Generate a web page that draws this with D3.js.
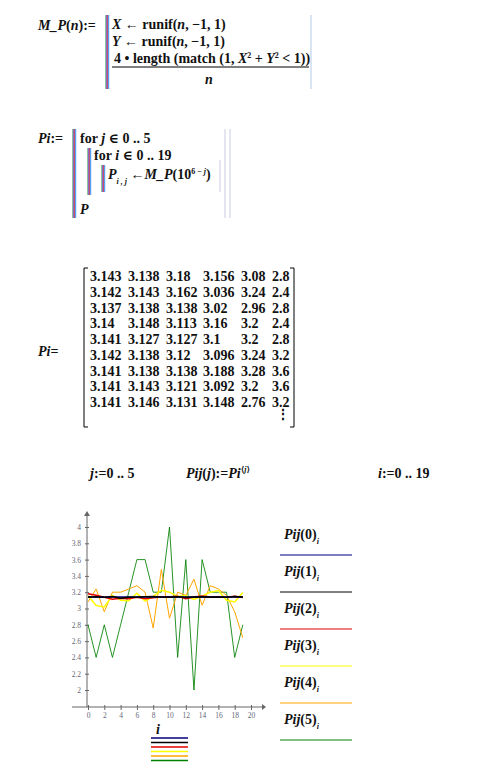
<!DOCTYPE html>
<html><head><meta charset="utf-8">
<script src="https://cdn.jsdelivr.net/npm/d3@7.9.0/dist/d3.min.js"></script>
<style>
body{margin:0;background:#fff}
text{font-family:"Liberation Serif","DejaVu Serif",serif;font-size:14px;font-weight:bold;fill:#111}
.it{font-style:italic}
.tick text{font-family:"Liberation Serif",serif;font-size:7.5px;font-weight:normal;fill:#667}
</style></head><body>
<svg id="s" width="496" height="778"></svg>
<script>
// Pi columns, j = 0..5 (n = 10^(6-j)), i = 0..19
const pij0 = [3.143,3.142,3.137,3.14,3.141,3.142,3.141,3.141,3.141,3.141,3.142,3.141,3.141,3.142,3.141,3.141,3.142,3.141,3.141,3.141];
const pij1 = [3.138,3.143,3.138,3.148,3.127,3.138,3.138,3.143,3.146,3.14,3.138,3.143,3.136,3.141,3.144,3.139,3.142,3.137,3.146,3.14];
const pij2 = [3.18,3.162,3.138,3.113,3.127,3.12,3.138,3.121,3.131,3.14,3.144,3.15,3.12,3.14,3.152,3.14,3.142,3.138,3.15,3.136];
const pij3 = [3.156,3.036,3.02,3.16,3.1,3.096,3.188,3.092,3.148,3.224,3.2,3.148,3.16,3.112,3.152,3.2,3.22,3.1,3.08,3.196];
const pij4 = [3.08,3.24,2.96,3.2,3.2,3.24,3.28,3.2,2.76,3.48,2.88,3.2,3.16,3.36,3.04,3.28,3.24,3.16,2.96,2.64];
const pij5 = [2.8,2.4,2.8,2.4,2.8,3.2,3.6,3.6,3.2,3.2,4.0,2.4,3.6,2.0,3.6,3.2,3.2,3.2,2.4,2.8];
const series = [pij0,pij1,pij2,pij3,pij4,pij5];
const colors = ["#000080","#000000","#e00000","#ffff00","#ffa500","#008000"];
const xTicks = [0,2,4,6,8,10,12,14,16,18,20];
const yTicks = [2,2.2,2.4,2.6,2.8,3,3.2,3.4,3.6,3.8,4];

const svg = d3.select('#s');
function txt(x,y,s,cls){ return svg.append('text').attr('x',x).attr('y',y).attr('class',cls||'').html(s); }
function bar(x,y1,y2,c,w){ svg.append('line').attr('x1',x).attr('x2',x).attr('y1',y1).attr('y2',y2).attr('stroke',c).attr('stroke-width',w||1); }
function bars(x,y1,y2){ ['#1a8a3a','#8a2be2','#c03030','#3399ff'].forEach((c,k)=>bar(x+k*0.9,y1,y2,c,1)); }

// M_P definition
txt(38,30,'<tspan class="it">M_P</tspan>(<tspan class="it">n</tspan>):=');
bars(106,15,89);
txt(112,29,'<tspan class="it">X</tspan> ← runif(<tspan class="it">n</tspan>, −1, 1)');
txt(112,46,'<tspan class="it">Y</tspan> ← runif(<tspan class="it">n</tspan>, −1, 1)');
txt(114,63,'4 • length (match (1, <tspan class="it">X</tspan><tspan dy="-5" font-size="8">2</tspan><tspan dy="5"> + </tspan><tspan class="it">Y</tspan><tspan dy="-5" font-size="8">2</tspan><tspan dy="5"> &lt; 1))</tspan>');
svg.append('line').attr('x1',112).attr('x2',309).attr('y1',67).attr('y2',67).attr('stroke','#000');
txt(205,84,'n','it');
bar(311,15,89,'#cde',1.5);

// Pi loop
txt(38,143,'<tspan class="it">Pi</tspan>:=');
bars(73,129,218);
txt(80,143,'for <tspan class="it">j</tspan> ∈ 0 .. 5');
bars(88,148,195);
txt(94,160,'for <tspan class="it">i</tspan> ∈ 0 .. 19');
bars(102,165,192);
txt(108,179,'<tspan class="it">P</tspan><tspan dy="5" font-size="8" class="it">i , j</tspan><tspan dy="-5"> ←</tspan><tspan class="it">M_P</tspan>(10<tspan dy="-5" font-size="8">6 − <tspan class="it">j</tspan></tspan><tspan dy="5">)</tspan>');
txt(80,214,'P','it');
bar(220,160,192,'#dde',1.5); bar(225,129,218,'#dde',1.5); bar(230,129,218,'#dde',1.5);

// Matrix
txt(38,356,'<tspan class="it">Pi</tspan>=');
const colX = [90,128,166,203,241,272];
const fmt = v => String(+v.toFixed(3));
for (let i=0;i<9;i++) series.forEach((s,j)=>txt(colX[j],281+i*15.75,fmt(s[i])));
txt(276,419,'⋮');
svg.append('path').attr('d','M88,268H84V427H88').attr('fill','none').attr('stroke','#000');
svg.append('path').attr('d','M290,268H294V427H290').attr('fill','none').attr('stroke','#000');

// Range defs
txt(90,478,'<tspan class="it">j</tspan>:=0 .. 5');
txt(186,478,'<tspan class="it">Pij</tspan>(<tspan class="it">j</tspan>):=<tspan class="it">Pi</tspan><tspan dy="-6" font-size="8">⟨<tspan class="it">j</tspan>⟩</tspan>');
txt(378,478,'<tspan class="it">i</tspan>:=0 .. 19');

// Chart
const x = d3.scaleLinear().domain([0,20]).range([88,251]);
const y = d3.scaleLinear().domain([2,4]).range([690,527]);
const ax = svg.append('g').attr('transform','translate(0,707)')
  .call(d3.axisBottom(x).tickValues(xTicks).tickSize(3).tickSizeOuter(0));
ax.select('.domain').attr('d','M72,0H262').attr('stroke','#666');
ax.selectAll('.tick line').attr('stroke','#666').attr('y1',-2);
svg.append('path').attr('d','M262,704L266,707L262,710Z').attr('fill','#666');
const ay = svg.append('g').attr('transform','translate(87,0)')
  .call(d3.axisLeft(y).tickValues(yTicks).tickFormat(d3.format('~g')).tickSize(3).tickSizeOuter(0));
ay.select('.domain').attr('d','M0,515V707').attr('stroke','#666');
ay.selectAll('.tick line').attr('stroke','#666').attr('x2',2).attr('x1',-2);
svg.append('path').attr('d','M84,516L87,511L90,516Z').attr('fill','#666');

const line = d3.line().x((d,i)=>x(i)).y(d=>y(d));
[5,4,3,2,0,1].forEach(j=>svg.append('path').datum(series[j]).attr('d',line)
  .attr('fill','none').attr('stroke',colors[j]).attr('stroke-width',j>=4?1:1.5).attr('opacity',j==5?0.85:1));

txt(156,734,'i','it');
colors.forEach((c,k)=>svg.append('line').attr('x1',151).attr('x2',188)
  .attr('y1',738+k*4.5).attr('y2',738+k*4.5).attr('stroke',c).attr('stroke-width',1.5));

// right legend
colors.forEach((c,k)=>{
  const yy = 539+k*37;
  txt(284,yy,'<tspan class="it">Pij</tspan>('+k+')<tspan dy="5" font-size="8" class="it">i</tspan>');
  svg.append('line').attr('x1',280).attr('x2',352).attr('y1',yy+16).attr('y2',yy+16).attr('stroke',c).attr('stroke-width',1);
});
</script></body></html>
